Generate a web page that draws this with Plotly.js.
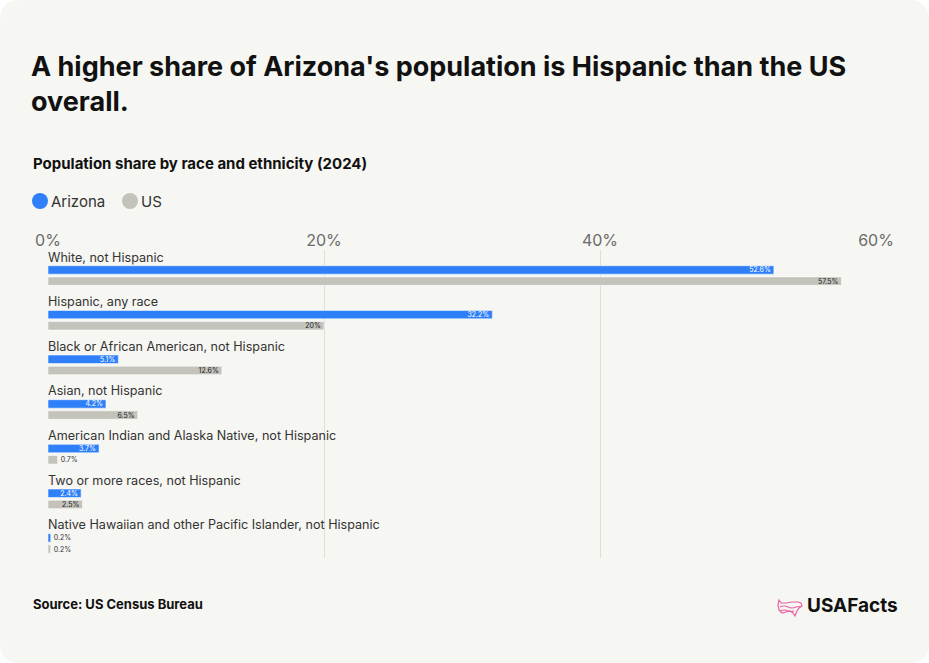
<!DOCTYPE html>
<html>
<head>
<meta charset="utf-8">
<script src="https://cdn.plot.ly/plotly-3.0.1.min.js"></script>
<style>
  html, body { margin: 0; padding: 0; background: #ffffff; }
  #card {
    width: 929px; height: 663px;
    background: #f6f6f2;
    border-radius: 18px;
    overflow: hidden;
  }
  #chart { width: 929px; height: 663px; }
</style>
</head>
<body>
<div id="card"><div id="chart"></div></div>
<script>
// Population share by race and ethnicity, 2024 (percent)
const categories = [
  "White, not Hispanic",
  "Hispanic, any race",
  "Black or African American, not Hispanic",
  "Asian, not Hispanic",
  "American Indian and Alaska Native, not Hispanic",
  "Two or more races, not Hispanic",
  "Native Hawaiian and other Pacific Islander, not Hispanic"
];
const arizona = [52.6, 32.2, 5.1, 4.2, 3.7, 2.4, 0.2];
const us = [57.5, 20, 12.6, 6.5, 0.7, 2.5, 0.2];
const seriesNames = ["Arizona", "US"];
const xTicks = [0, 20, 40, 60];

const BLUE = "#2f80f8";
const GREY = "#c3c3bc";
const PINK = "#ee5fa4";
const FONT = "Inter, 'Liberation Sans', sans-serif";

// Each category gets one unit of the y axis: label on top, then the two bars.
const labelY = categories.map((_, i) => i);
const azY = categories.map((_, i) => i + 0.29);
const usY = categories.map((_, i) => i + 0.54);

const fmt = v => v + "%";
const placement = v => (v < 1 ? "outside" : "inside");

function barTrace(name, values, ys, color, insideColor) {
  return {
    type: "bar",
    orientation: "h",
    name: name,
    x: values,
    y: ys,
    width: 0.19,
    marker: { color: color, line: { color: "rgba(255,255,255,0.55)", width: 1 } },
    text: values.map(fmt),
    textposition: values.map(placement),
    insidetextanchor: "end",
    constraintext: "none",
    cliponaxis: false,
    insidetextfont: { family: FONT, size: 7, color: insideColor },
    outsidetextfont: { family: FONT, size: 7, color: "#333333" },
    textfont: { family: FONT, size: 7 },
    hoverinfo: "skip",
    showlegend: false
  };
}

const traces = [
  barTrace(seriesNames[0], arizona, azY, BLUE, "#ffffff"),
  barTrace(seriesNames[1], us, usY, GREY, "#222222")
];

const annotations = categories.map((c, i) => ({
  xref: "x", yref: "y", x: 0, y: labelY[i],
  text: c, showarrow: false, xanchor: "left", yanchor: "middle",
  xshift: -2,
  font: { family: FONT, size: 12.6, color: "#333333" }
}));

// Header, legend labels and footer, placed in pixels from the plot corner
const header = [
  { text: "<b>Population share by race and ethnicity (2024)</b>", x: 0, y: 1, xs: -17, ys: 87, size: 15, color: "#111111" },
  { text: seriesNames[0], x: 0, y: 1, xs: 1, ys: 49, size: 15, color: "#333333" },
  { text: seriesNames[1], x: 0, y: 1, xs: 91, ys: 49, size: 15, color: "#333333" },
  { text: "<b>Source: US Census Bureau</b>", x: 0, y: 0, xs: -17, ys: -46, size: 13, color: "#111111" },
  { text: "<b>USAFacts</b>", x: 1, y: 0, xs: -71, ys: -47, size: 19, color: "#111111" }
];
header.forEach(h => annotations.push({
  xref: "paper", yref: "paper", x: h.x, y: h.y, xshift: h.xs, yshift: h.ys,
  text: h.text, showarrow: false, xanchor: "left", yanchor: "middle",
  font: { family: FONT, size: h.size, color: h.color }
}));

const shapes = [
  { type: "circle", xref: "paper", yref: "paper", xsizemode: "pixel", ysizemode: "pixel",
    xanchor: 0, yanchor: 1, x0: -16, x1: 0, y0: 41, y1: 57,
    fillcolor: BLUE, line: { width: 0 } },
  { type: "circle", xref: "paper", yref: "paper", xsizemode: "pixel", ysizemode: "pixel",
    xanchor: 0, yanchor: 1, x0: 74, x1: 90, y0: 41, y1: 57,
    fillcolor: GREY, line: { width: 0 } },
  // map-outline mark next to the wordmark
  { type: "path", xref: "paper", yref: "paper", xsizemode: "pixel", ysizemode: "pixel",
    xanchor: 1, yanchor: 0,
    path: "M -97 -42 L -95 -45 L -90 -45 L -84 -44 L -78 -44 L -75 -45 L -74 -48 L -77 -50 L -79 -53 L -81 -58 L -83 -55 L -86 -53 L -90 -54 L -94 -55 L -97 -52 L -98 -47 Z",
    line: { color: PINK, width: 1.2 }, fillcolor: "rgba(0,0,0,0)" },
  { type: "path", xref: "paper", yref: "paper", xsizemode: "pixel", ysizemode: "pixel",
    xanchor: 1, yanchor: 0,
    path: "M -96 -49 Q -92 -47 -88 -49 Q -84 -51 -80 -49 Q -77 -48 -75 -49",
    line: { color: PINK, width: 1.1 } },
  { type: "path", xref: "paper", yref: "paper", xsizemode: "pixel", ysizemode: "pixel",
    xanchor: 1, yanchor: 0,
    path: "M -96 -53 Q -92 -51 -88 -53 Q -85 -54 -82 -53",
    line: { color: PINK, width: 1.1 } }
];

const layout = {
  width: 929, height: 663,
  margin: { l: 48, r: 53, t: 250, b: 105 },
  paper_bgcolor: "rgba(0,0,0,0)",
  plot_bgcolor: "rgba(0,0,0,0)",
  title: {
    text: "<b>A higher share of Arizona's population is Hispanic than the US<br>overall.</b>",
    xref: "container", yref: "container",
    x: 31 / 929, xanchor: "left",
    y: 1 - 76 / 663, yanchor: "top",
    font: { family: FONT, size: 27, color: "#111111" }
  },
  barmode: "overlay",
  xaxis: {
    side: "top",
    range: [0, 60],
    tickvals: xTicks,
    ticktext: xTicks.map(fmt),
    showgrid: true, gridcolor: "#dedfd9", gridwidth: 1,
    zeroline: false, showline: false, ticks: "",
    tickfont: { family: FONT, size: 16, color: "#6b6b6b" },
    fixedrange: true
  },
  yaxis: {
    range: [6.74, -0.157],
    visible: false,
    fixedrange: true
  },
  annotations: annotations,
  shapes: shapes,
  showlegend: false
};

Plotly.newPlot("chart", traces, layout, { displayModeBar: false, staticPlot: true });
</script>
</body>
</html>
